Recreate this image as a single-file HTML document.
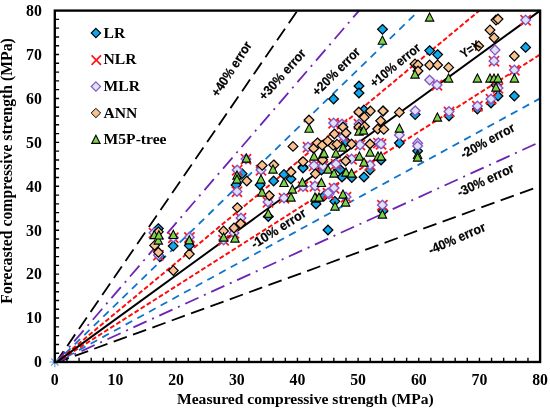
<!DOCTYPE html><html><head><meta charset="utf-8"><title>chart</title><style>html,body{margin:0;padding:0;background:#fff}svg{display:block}text{font-family:"Liberation Serif",serif;font-weight:bold;font-size:15.6px;fill:#000}.lab{font-family:"Liberation Sans",sans-serif;font-weight:bold;font-size:13.2px;stroke:#000;stroke-width:0.2px}</style></head><body>
<svg width="550" height="410" viewBox="0 0 550 410">
<rect width="550" height="410" fill="#fff"/>
<g>
<line x1="55.6" y1="362.9" x2="297.4" y2="10.6" stroke="#000" stroke-width="1.8" stroke-dasharray="14 6.6"/>
<line x1="55.6" y1="362.9" x2="540.1" y2="186.0" stroke="#000" stroke-width="1.8" stroke-dasharray="14 6.6"/>
<line x1="55.6" y1="362.9" x2="359.1" y2="10.6" stroke="#6c24b4" stroke-width="1.8" stroke-dasharray="14.5 6 2 6"/>
<line x1="55.6" y1="362.9" x2="540.1" y2="141.9" stroke="#6c24b4" stroke-width="1.8" stroke-dasharray="14.5 6 2 6"/>
<line x1="55.6" y1="362.9" x2="418.8" y2="10.6" stroke="#0d74cc" stroke-width="1.8" stroke-dasharray="7.5 5.8"/>
<line x1="55.6" y1="362.9" x2="540.1" y2="98.4" stroke="#0d74cc" stroke-width="1.8" stroke-dasharray="7.5 5.8"/>
<line x1="55.6" y1="362.9" x2="479.4" y2="10.6" stroke="#ff0a0a" stroke-width="1.95" stroke-dasharray="4.8 2.4"/>
<line x1="55.6" y1="362.9" x2="540.1" y2="54.5" stroke="#ff0a0a" stroke-width="1.95" stroke-dasharray="4.8 2.4"/>
<line x1="55.6" y1="362.9" x2="540.1" y2="10.6" stroke="#000" stroke-width="1.95"/>
</g>
<g>
<path d="M158.3 223.8L163.2 228.6L158.3 233.4L153.5 228.6Z" fill="#10a8ec" stroke="#000" stroke-width="1.2"/>
<path d="M159.8 252.0L164.7 256.8L159.8 261.7L155.0 256.8Z" fill="#10a8ec" stroke="#000" stroke-width="1.2"/>
<path d="M173.2 241.2L178.0 246.1L173.2 250.9L168.3 246.1Z" fill="#10a8ec" stroke="#000" stroke-width="1.2"/>
<path d="M189.3 240.8L194.2 245.6L189.3 250.4L184.5 245.6Z" fill="#10a8ec" stroke="#000" stroke-width="1.2"/>
<path d="M242.2 168.8L247.0 173.7L242.2 178.5L237.3 173.7Z" fill="#10a8ec" stroke="#000" stroke-width="1.2"/>
<path d="M273.6 176.2L278.5 181.0L273.6 185.8L268.8 181.0Z" fill="#10a8ec" stroke="#000" stroke-width="1.2"/>
<path d="M284.0 169.6L288.9 174.4L284.0 179.2L279.1 174.4Z" fill="#10a8ec" stroke="#000" stroke-width="1.2"/>
<path d="M291.0 174.2L295.9 179.0L291.0 183.8L286.1 179.0Z" fill="#10a8ec" stroke="#000" stroke-width="1.2"/>
<path d="M303.0 162.2L307.9 167.0L303.0 171.8L298.1 167.0Z" fill="#10a8ec" stroke="#000" stroke-width="1.2"/>
<path d="M316.0 199.2L320.9 204.0L316.0 208.8L311.1 204.0Z" fill="#10a8ec" stroke="#000" stroke-width="1.2"/>
<path d="M236.0 180.2L240.8 185.0L236.0 189.8L231.2 185.0Z" fill="#10a8ec" stroke="#000" stroke-width="1.2"/>
<path d="M260.0 180.2L264.9 185.0L260.0 189.8L255.2 185.0Z" fill="#10a8ec" stroke="#000" stroke-width="1.2"/>
<path d="M324.0 191.2L328.9 196.0L324.0 200.8L319.1 196.0Z" fill="#10a8ec" stroke="#000" stroke-width="1.2"/>
<path d="M333.6 94.2L338.5 99.0L333.6 103.8L328.8 99.0Z" fill="#10a8ec" stroke="#000" stroke-width="1.2"/>
<path d="M359.0 81.2L363.9 86.0L359.0 90.8L354.1 86.0Z" fill="#10a8ec" stroke="#000" stroke-width="1.2"/>
<path d="M359.0 88.2L363.9 93.0L359.0 97.8L354.1 93.0Z" fill="#10a8ec" stroke="#000" stroke-width="1.2"/>
<path d="M399.4 138.2L404.2 143.0L399.4 147.8L394.5 143.0Z" fill="#10a8ec" stroke="#000" stroke-width="1.2"/>
<path d="M364.0 105.2L368.9 110.0L364.0 114.8L359.1 110.0Z" fill="#10a8ec" stroke="#000" stroke-width="1.2"/>
<path d="M364.0 172.2L368.9 177.0L364.0 181.8L359.1 177.0Z" fill="#10a8ec" stroke="#000" stroke-width="1.2"/>
<path d="M303.0 163.2L307.9 168.0L303.0 172.8L298.1 168.0Z" fill="#10a8ec" stroke="#000" stroke-width="1.2"/>
<path d="M342.0 172.2L346.9 177.0L342.0 181.8L337.1 177.0Z" fill="#10a8ec" stroke="#000" stroke-width="1.2"/>
<path d="M370.0 165.2L374.9 170.0L370.0 174.8L365.1 170.0Z" fill="#10a8ec" stroke="#000" stroke-width="1.2"/>
<path d="M334.8 196.5L339.7 201.3L334.8 206.2L329.9 201.3Z" fill="#10a8ec" stroke="#000" stroke-width="1.2"/>
<path d="M429.6 45.8L434.5 50.6L429.6 55.5L424.8 50.6Z" fill="#10a8ec" stroke="#000" stroke-width="1.2"/>
<path d="M437.6 49.8L442.5 54.6L437.6 59.5L432.8 54.6Z" fill="#10a8ec" stroke="#000" stroke-width="1.2"/>
<path d="M525.6 42.5L530.5 47.4L525.6 52.2L520.8 47.4Z" fill="#10a8ec" stroke="#000" stroke-width="1.2"/>
<path d="M514.4 91.2L519.2 96.0L514.4 100.8L509.5 96.0Z" fill="#10a8ec" stroke="#000" stroke-width="1.2"/>
<path d="M498.0 91.2L502.9 96.0L498.0 100.8L493.1 96.0Z" fill="#10a8ec" stroke="#000" stroke-width="1.2"/>
<path d="M491.0 98.2L495.9 103.0L491.0 107.8L486.1 103.0Z" fill="#10a8ec" stroke="#000" stroke-width="1.2"/>
<path d="M477.4 104.2L482.2 109.0L477.4 113.8L472.5 109.0Z" fill="#10a8ec" stroke="#000" stroke-width="1.2"/>
<path d="M449.0 111.2L453.9 116.0L449.0 120.8L444.1 116.0Z" fill="#10a8ec" stroke="#000" stroke-width="1.2"/>
<path d="M496.0 80.2L500.9 85.0L496.0 89.8L491.1 85.0Z" fill="#10a8ec" stroke="#000" stroke-width="1.2"/>
<path d="M415.2 109.8L420.1 114.6L415.2 119.4L410.3 114.6Z" fill="#10a8ec" stroke="#000" stroke-width="1.2"/>
<path d="M417.6 146.2L422.5 151.0L417.6 155.8L412.8 151.0Z" fill="#10a8ec" stroke="#000" stroke-width="1.2"/>
<path d="M383.0 206.2L387.9 211.0L383.0 215.8L378.1 211.0Z" fill="#10a8ec" stroke="#000" stroke-width="1.2"/>
<path d="M381.0 155.2L385.9 160.0L381.0 164.8L376.1 160.0Z" fill="#10a8ec" stroke="#000" stroke-width="1.2"/>
<path d="M328.0 225.2L332.9 230.0L328.0 234.8L323.1 230.0Z" fill="#10a8ec" stroke="#000" stroke-width="1.2"/>
<path d="M382.5 24.5L387.4 29.3L382.5 34.1L377.6 29.3Z" fill="#10a8ec" stroke="#000" stroke-width="1.2"/>
<path d="M346.3 137.0L351.2 141.8L346.3 146.7L341.4 141.8Z" fill="#10a8ec" stroke="#000" stroke-width="1.2"/>
<path d="M351.8 172.7L356.7 177.5L351.8 182.3L346.9 177.5Z" fill="#10a8ec" stroke="#000" stroke-width="1.2"/>
<path d="M321.5 165.2L326.4 170.0L321.5 174.8L316.6 170.0Z" fill="#10a8ec" stroke="#000" stroke-width="1.2"/>
<path d="M340.2 164.7L345.1 169.5L340.2 174.3L335.3 169.5Z" fill="#10a8ec" stroke="#000" stroke-width="1.2"/>
<path d="M268.3 211.7L273.2 216.5L268.3 221.3L263.4 216.5Z" fill="#10a8ec" stroke="#000" stroke-width="1.2"/>
<path d="M153.3 250.2L163.5 260.4M153.3 260.4L163.5 250.2" stroke="#ff1515" stroke-width="1.7" fill="none"/>
<path d="M235.9 213.2L246.1 223.4M235.9 223.4L246.1 213.2" stroke="#ff1515" stroke-width="1.7" fill="none"/>
<path d="M232.1 165.2L242.3 175.4M232.1 175.4L242.3 165.2" stroke="#ff1515" stroke-width="1.7" fill="none"/>
<path d="M231.9 186.7L242.1 196.9M231.9 196.9L242.1 186.7" stroke="#ff1515" stroke-width="1.7" fill="none"/>
<path d="M255.9 165.2L266.1 175.4M255.9 175.4L266.1 165.2" stroke="#ff1515" stroke-width="1.7" fill="none"/>
<path d="M278.9 193.2L289.1 203.4M278.9 203.4L289.1 193.2" stroke="#ff1515" stroke-width="1.7" fill="none"/>
<path d="M302.9 142.2L313.1 152.4M302.9 152.4L313.1 142.2" stroke="#ff1515" stroke-width="1.7" fill="none"/>
<path d="M308.9 160.8L319.1 171.0M308.9 171.0L319.1 160.8" stroke="#ff1515" stroke-width="1.7" fill="none"/>
<path d="M317.9 161.2L328.1 171.4M317.9 171.4L328.1 161.2" stroke="#ff1515" stroke-width="1.7" fill="none"/>
<path d="M309.9 181.2L320.1 191.4M309.9 191.4L320.1 181.2" stroke="#ff1515" stroke-width="1.7" fill="none"/>
<path d="M323.9 189.2L334.1 199.4M323.9 199.4L334.1 189.2" stroke="#ff1515" stroke-width="1.7" fill="none"/>
<path d="M328.5 118.2L338.7 128.4M328.5 128.4L338.7 118.2" stroke="#ff1515" stroke-width="1.7" fill="none"/>
<path d="M353.9 119.2L364.1 129.4M353.9 129.4L364.1 119.2" stroke="#ff1515" stroke-width="1.7" fill="none"/>
<path d="M354.9 140.0L365.1 150.2M354.9 150.2L365.1 140.0" stroke="#ff1515" stroke-width="1.7" fill="none"/>
<path d="M373.3 138.0L383.5 148.2M373.3 148.2L383.5 138.0" stroke="#ff1515" stroke-width="1.7" fill="none"/>
<path d="M338.4 131.7L348.6 141.9M338.4 141.9L348.6 131.7" stroke="#ff1515" stroke-width="1.7" fill="none"/>
<path d="M297.9 181.7L308.1 191.9M297.9 191.9L308.1 181.7" stroke="#ff1515" stroke-width="1.7" fill="none"/>
<path d="M336.9 119.2L347.1 129.4M336.9 129.4L347.1 119.2" stroke="#ff1515" stroke-width="1.7" fill="none"/>
<path d="M330.9 159.2L341.1 169.4M330.9 169.4L341.1 159.2" stroke="#ff1515" stroke-width="1.7" fill="none"/>
<path d="M364.9 160.2L375.1 170.4M364.9 170.4L375.1 160.2" stroke="#ff1515" stroke-width="1.7" fill="none"/>
<path d="M328.9 183.2L339.1 193.4M328.9 193.4L339.1 183.2" stroke="#ff1515" stroke-width="1.7" fill="none"/>
<path d="M322.9 188.2L333.1 198.4M322.9 198.4L333.1 188.2" stroke="#ff1515" stroke-width="1.7" fill="none"/>
<path d="M377.3 200.2L387.5 210.4M377.3 210.4L387.5 200.2" stroke="#ff1515" stroke-width="1.7" fill="none"/>
<path d="M346.5 154.2L356.7 164.4M346.5 164.4L356.7 154.2" stroke="#ff1515" stroke-width="1.7" fill="none"/>
<path d="M340.9 192.2L351.1 202.4M340.9 202.4L351.1 192.2" stroke="#ff1515" stroke-width="1.7" fill="none"/>
<path d="M431.9 80.2L442.1 90.4M431.9 90.4L442.1 80.2" stroke="#ff1515" stroke-width="1.7" fill="none"/>
<path d="M488.9 56.2L499.1 66.4M488.9 66.4L499.1 56.2" stroke="#ff1515" stroke-width="1.7" fill="none"/>
<path d="M520.5 15.2L530.7 25.4M520.5 25.4L530.7 15.2" stroke="#ff1515" stroke-width="1.7" fill="none"/>
<path d="M509.3 65.2L519.5 75.4M509.3 75.4L519.5 65.2" stroke="#ff1515" stroke-width="1.7" fill="none"/>
<path d="M443.9 106.8L454.1 117.0M443.9 117.0L454.1 106.8" stroke="#ff1515" stroke-width="1.7" fill="none"/>
<path d="M472.3 101.2L482.5 111.4M472.3 111.4L482.5 101.2" stroke="#ff1515" stroke-width="1.7" fill="none"/>
<path d="M485.9 94.2L496.1 104.4M485.9 104.4L496.1 94.2" stroke="#ff1515" stroke-width="1.7" fill="none"/>
<path d="M492.9 83.2L503.1 93.4M492.9 93.4L503.1 83.2" stroke="#ff1515" stroke-width="1.7" fill="none"/>
<path d="M375.9 139.2L386.1 149.4M375.9 149.4L386.1 139.2" stroke="#ff1515" stroke-width="1.7" fill="none"/>
<path d="M262.9 197.2L273.1 207.4M262.9 207.4L273.1 197.2" stroke="#ff1515" stroke-width="1.7" fill="none"/>
<path d="M228.9 228.2L239.1 238.4M228.9 238.4L239.1 228.2" stroke="#ff1515" stroke-width="1.7" fill="none"/>
<path d="M148.9 228.0L159.1 238.2M148.9 238.2L159.1 228.0" stroke="#ff1515" stroke-width="1.7" fill="none"/>
<path d="M168.2 232.6L178.4 242.8M168.2 242.8L178.4 232.6" stroke="#ff1515" stroke-width="1.7" fill="none"/>
<path d="M184.3 232.4L194.5 242.6M184.3 242.6L194.5 232.4" stroke="#ff1515" stroke-width="1.7" fill="none"/>
<path d="M218.5 235.2L228.7 245.4M218.5 245.4L228.7 235.2" stroke="#ff1515" stroke-width="1.7" fill="none"/>
<path d="M240.9 154.2L251.1 164.4M240.9 164.4L251.1 154.2" stroke="#ff1515" stroke-width="1.7" fill="none"/>
<path d="M158.4 250.2L163.2 255.0L158.4 259.9L153.6 255.0Z" fill="#dde5f4" stroke="#8a55c8" stroke-width="1.35"/>
<path d="M241.0 213.2L245.8 218.0L241.0 222.8L236.2 218.0Z" fill="#dde5f4" stroke="#8a55c8" stroke-width="1.35"/>
<path d="M237.2 165.2L242.0 170.0L237.2 174.8L232.3 170.0Z" fill="#dde5f4" stroke="#8a55c8" stroke-width="1.35"/>
<path d="M237.0 186.7L241.8 191.5L237.0 196.3L232.2 191.5Z" fill="#dde5f4" stroke="#8a55c8" stroke-width="1.35"/>
<path d="M261.0 165.2L265.9 170.0L261.0 174.8L256.1 170.0Z" fill="#dde5f4" stroke="#8a55c8" stroke-width="1.35"/>
<path d="M284.0 193.2L288.9 198.0L284.0 202.8L279.1 198.0Z" fill="#dde5f4" stroke="#8a55c8" stroke-width="1.35"/>
<path d="M308.0 142.2L312.9 147.0L308.0 151.8L303.1 147.0Z" fill="#dde5f4" stroke="#8a55c8" stroke-width="1.35"/>
<path d="M314.0 160.8L318.9 165.6L314.0 170.4L309.1 165.6Z" fill="#dde5f4" stroke="#8a55c8" stroke-width="1.35"/>
<path d="M323.0 161.2L327.9 166.0L323.0 170.8L318.1 166.0Z" fill="#dde5f4" stroke="#8a55c8" stroke-width="1.35"/>
<path d="M315.0 181.2L319.9 186.0L315.0 190.8L310.1 186.0Z" fill="#dde5f4" stroke="#8a55c8" stroke-width="1.35"/>
<path d="M329.0 189.2L333.9 194.0L329.0 198.8L324.1 194.0Z" fill="#dde5f4" stroke="#8a55c8" stroke-width="1.35"/>
<path d="M333.6 118.2L338.5 123.0L333.6 127.8L328.8 123.0Z" fill="#dde5f4" stroke="#8a55c8" stroke-width="1.35"/>
<path d="M359.0 119.2L363.9 124.0L359.0 128.8L354.1 124.0Z" fill="#dde5f4" stroke="#8a55c8" stroke-width="1.35"/>
<path d="M360.0 140.0L364.9 144.8L360.0 149.7L355.1 144.8Z" fill="#dde5f4" stroke="#8a55c8" stroke-width="1.35"/>
<path d="M378.4 138.0L383.2 142.8L378.4 147.7L373.5 142.8Z" fill="#dde5f4" stroke="#8a55c8" stroke-width="1.35"/>
<path d="M343.5 131.7L348.4 136.5L343.5 141.3L338.6 136.5Z" fill="#dde5f4" stroke="#8a55c8" stroke-width="1.35"/>
<path d="M303.0 181.7L307.9 186.5L303.0 191.3L298.1 186.5Z" fill="#dde5f4" stroke="#8a55c8" stroke-width="1.35"/>
<path d="M399.4 130.2L404.2 135.0L399.4 139.8L394.5 135.0Z" fill="#dde5f4" stroke="#8a55c8" stroke-width="1.35"/>
<path d="M342.0 119.2L346.9 124.0L342.0 128.8L337.1 124.0Z" fill="#dde5f4" stroke="#8a55c8" stroke-width="1.35"/>
<path d="M336.0 159.2L340.9 164.0L336.0 168.8L331.1 164.0Z" fill="#dde5f4" stroke="#8a55c8" stroke-width="1.35"/>
<path d="M370.0 160.2L374.9 165.0L370.0 169.8L365.1 165.0Z" fill="#dde5f4" stroke="#8a55c8" stroke-width="1.35"/>
<path d="M334.0 183.2L338.9 188.0L334.0 192.8L329.1 188.0Z" fill="#dde5f4" stroke="#8a55c8" stroke-width="1.35"/>
<path d="M328.0 188.2L332.9 193.0L328.0 197.8L323.1 193.0Z" fill="#dde5f4" stroke="#8a55c8" stroke-width="1.35"/>
<path d="M382.4 200.2L387.2 205.0L382.4 209.8L377.5 205.0Z" fill="#dde5f4" stroke="#8a55c8" stroke-width="1.35"/>
<path d="M351.6 154.2L356.5 159.0L351.6 163.8L346.8 159.0Z" fill="#dde5f4" stroke="#8a55c8" stroke-width="1.35"/>
<path d="M346.0 192.2L350.9 197.0L346.0 201.8L341.1 197.0Z" fill="#dde5f4" stroke="#8a55c8" stroke-width="1.35"/>
<path d="M429.6 75.2L434.5 80.0L429.6 84.8L424.8 80.0Z" fill="#dde5f4" stroke="#8a55c8" stroke-width="1.35"/>
<path d="M437.0 80.2L441.9 85.0L437.0 89.8L432.1 85.0Z" fill="#dde5f4" stroke="#8a55c8" stroke-width="1.35"/>
<path d="M495.0 45.1L499.9 50.0L495.0 54.9L490.1 50.0Z" fill="#dde5f4" stroke="#8a55c8" stroke-width="1.35"/>
<path d="M494.0 56.1L498.9 61.0L494.0 65.8L489.1 61.0Z" fill="#dde5f4" stroke="#8a55c8" stroke-width="1.35"/>
<path d="M525.6 15.2L530.5 20.0L525.6 24.9L520.8 20.0Z" fill="#dde5f4" stroke="#8a55c8" stroke-width="1.35"/>
<path d="M514.4 65.2L519.2 70.0L514.4 74.8L509.5 70.0Z" fill="#dde5f4" stroke="#8a55c8" stroke-width="1.35"/>
<path d="M449.0 106.8L453.9 111.6L449.0 116.4L444.1 111.6Z" fill="#dde5f4" stroke="#8a55c8" stroke-width="1.35"/>
<path d="M477.4 101.2L482.2 106.0L477.4 110.8L472.5 106.0Z" fill="#dde5f4" stroke="#8a55c8" stroke-width="1.35"/>
<path d="M491.0 94.2L495.9 99.0L491.0 103.8L486.1 99.0Z" fill="#dde5f4" stroke="#8a55c8" stroke-width="1.35"/>
<path d="M498.0 83.2L502.9 88.0L498.0 92.8L493.1 88.0Z" fill="#dde5f4" stroke="#8a55c8" stroke-width="1.35"/>
<path d="M415.2 106.0L420.1 110.8L415.2 115.6L410.3 110.8Z" fill="#dde5f4" stroke="#8a55c8" stroke-width="1.35"/>
<path d="M417.6 138.3L422.5 143.2L417.6 148.0L412.8 143.2Z" fill="#dde5f4" stroke="#8a55c8" stroke-width="1.35"/>
<path d="M417.6 141.2L422.5 146.0L417.6 150.8L412.8 146.0Z" fill="#dde5f4" stroke="#8a55c8" stroke-width="1.35"/>
<path d="M381.0 139.2L385.9 144.0L381.0 148.8L376.1 144.0Z" fill="#dde5f4" stroke="#8a55c8" stroke-width="1.35"/>
<path d="M268.0 197.2L272.9 202.0L268.0 206.8L263.1 202.0Z" fill="#dde5f4" stroke="#8a55c8" stroke-width="1.35"/>
<path d="M234.0 228.2L238.8 233.0L234.0 237.8L229.2 233.0Z" fill="#dde5f4" stroke="#8a55c8" stroke-width="1.35"/>
<path d="M154.0 228.0L158.8 232.8L154.0 237.7L149.2 232.8Z" fill="#dde5f4" stroke="#8a55c8" stroke-width="1.35"/>
<path d="M173.3 232.6L178.2 237.4L173.3 242.2L168.5 237.4Z" fill="#dde5f4" stroke="#8a55c8" stroke-width="1.35"/>
<path d="M189.4 232.3L194.2 237.2L189.4 242.0L184.6 237.2Z" fill="#dde5f4" stroke="#8a55c8" stroke-width="1.35"/>
<path d="M223.6 235.2L228.4 240.0L223.6 244.8L218.8 240.0Z" fill="#dde5f4" stroke="#8a55c8" stroke-width="1.35"/>
<path d="M246.0 154.2L250.8 159.0L246.0 163.8L241.2 159.0Z" fill="#dde5f4" stroke="#8a55c8" stroke-width="1.35"/>
<path d="M158.4 227.0L163.2 231.8L158.4 236.7L153.6 231.8Z" fill="#f8c190" stroke="#000" stroke-width="1.2"/>
<path d="M154.6 240.6L159.4 245.4L154.6 250.2L149.8 245.4Z" fill="#f8c190" stroke="#000" stroke-width="1.2"/>
<path d="M158.4 247.5L163.2 252.3L158.4 257.2L153.6 252.3Z" fill="#f8c190" stroke="#000" stroke-width="1.2"/>
<path d="M173.3 265.6L178.2 270.5L173.3 275.4L168.5 270.5Z" fill="#f8c190" stroke="#000" stroke-width="1.2"/>
<path d="M189.3 249.2L194.2 254.0L189.3 258.9L184.5 254.0Z" fill="#f8c190" stroke="#000" stroke-width="1.2"/>
<path d="M223.6 226.2L228.4 231.0L223.6 235.8L218.8 231.0Z" fill="#f8c190" stroke="#000" stroke-width="1.2"/>
<path d="M234.0 223.2L238.8 228.0L234.0 232.8L229.2 228.0Z" fill="#f8c190" stroke="#000" stroke-width="1.2"/>
<path d="M240.6 218.8L245.4 223.6L240.6 228.4L235.8 223.6Z" fill="#f8c190" stroke="#000" stroke-width="1.2"/>
<path d="M237.4 202.8L242.2 207.6L237.4 212.4L232.6 207.6Z" fill="#f8c190" stroke="#000" stroke-width="1.2"/>
<path d="M293.0 141.6L297.9 146.4L293.0 151.2L288.1 146.4Z" fill="#f8c190" stroke="#000" stroke-width="1.2"/>
<path d="M262.2 160.6L267.1 165.4L262.2 170.2L257.3 165.4Z" fill="#f8c190" stroke="#000" stroke-width="1.2"/>
<path d="M273.8 160.0L278.7 164.8L273.8 169.7L268.9 164.8Z" fill="#f8c190" stroke="#000" stroke-width="1.2"/>
<path d="M246.8 176.2L251.7 181.0L246.8 185.8L242.0 181.0Z" fill="#f8c190" stroke="#000" stroke-width="1.2"/>
<path d="M269.3 190.7L274.2 195.5L269.3 200.3L264.4 195.5Z" fill="#f8c190" stroke="#000" stroke-width="1.2"/>
<path d="M291.0 167.2L295.9 172.0L291.0 176.8L286.1 172.0Z" fill="#f8c190" stroke="#000" stroke-width="1.2"/>
<path d="M303.0 156.8L307.9 161.6L303.0 166.4L298.1 161.6Z" fill="#f8c190" stroke="#000" stroke-width="1.2"/>
<path d="M313.7 143.6L318.6 148.4L313.7 153.2L308.8 148.4Z" fill="#f8c190" stroke="#000" stroke-width="1.2"/>
<path d="M317.5 138.0L322.4 142.8L317.5 147.7L312.6 142.8Z" fill="#f8c190" stroke="#000" stroke-width="1.2"/>
<path d="M322.2 140.6L327.1 145.4L322.2 150.2L317.3 145.4Z" fill="#f8c190" stroke="#000" stroke-width="1.2"/>
<path d="M315.4 169.0L320.2 173.8L315.4 178.7L310.5 173.8Z" fill="#f8c190" stroke="#000" stroke-width="1.2"/>
<path d="M322.5 155.0L327.4 159.8L322.5 164.7L317.6 159.8Z" fill="#f8c190" stroke="#000" stroke-width="1.2"/>
<path d="M309.0 115.2L313.9 120.0L309.0 124.8L304.1 120.0Z" fill="#f8c190" stroke="#000" stroke-width="1.2"/>
<path d="M358.8 107.2L363.7 112.0L358.8 116.8L353.9 112.0Z" fill="#f8c190" stroke="#000" stroke-width="1.2"/>
<path d="M370.4 106.2L375.2 111.0L370.4 115.8L365.5 111.0Z" fill="#f8c190" stroke="#000" stroke-width="1.2"/>
<path d="M364.3 112.4L369.2 117.2L364.3 122.0L359.4 117.2Z" fill="#f8c190" stroke="#000" stroke-width="1.2"/>
<path d="M383.2 106.2L388.1 111.0L383.2 115.8L378.3 111.0Z" fill="#f8c190" stroke="#000" stroke-width="1.2"/>
<path d="M399.4 107.6L404.2 112.4L399.4 117.2L394.5 112.4Z" fill="#f8c190" stroke="#000" stroke-width="1.2"/>
<path d="M380.7 116.0L385.6 120.8L380.7 125.6L375.8 120.8Z" fill="#f8c190" stroke="#000" stroke-width="1.2"/>
<path d="M377.7 124.2L382.6 129.0L377.7 133.8L372.8 129.0Z" fill="#f8c190" stroke="#000" stroke-width="1.2"/>
<path d="M383.8 124.6L388.7 129.4L383.8 134.2L378.9 129.4Z" fill="#f8c190" stroke="#000" stroke-width="1.2"/>
<path d="M358.8 122.2L363.7 127.0L358.8 131.8L353.9 127.0Z" fill="#f8c190" stroke="#000" stroke-width="1.2"/>
<path d="M364.6 121.7L369.5 126.5L364.6 131.3L359.8 126.5Z" fill="#f8c190" stroke="#000" stroke-width="1.2"/>
<path d="M343.0 122.2L347.9 127.0L343.0 131.8L338.1 127.0Z" fill="#f8c190" stroke="#000" stroke-width="1.2"/>
<path d="M346.0 128.2L350.9 133.0L346.0 137.8L341.1 133.0Z" fill="#f8c190" stroke="#000" stroke-width="1.2"/>
<path d="M334.4 129.2L339.2 134.0L334.4 138.8L329.5 134.0Z" fill="#f8c190" stroke="#000" stroke-width="1.2"/>
<path d="M327.8 136.3L332.7 141.2L327.8 146.0L322.9 141.2Z" fill="#f8c190" stroke="#000" stroke-width="1.2"/>
<path d="M333.2 140.6L338.1 145.4L333.2 150.2L328.3 145.4Z" fill="#f8c190" stroke="#000" stroke-width="1.2"/>
<path d="M337.0 139.3L341.9 144.2L337.0 149.0L332.1 144.2Z" fill="#f8c190" stroke="#000" stroke-width="1.2"/>
<path d="M351.6 139.2L356.5 144.0L351.6 148.8L346.8 144.0Z" fill="#f8c190" stroke="#000" stroke-width="1.2"/>
<path d="M370.0 139.2L374.9 144.0L370.0 148.8L365.1 144.0Z" fill="#f8c190" stroke="#000" stroke-width="1.2"/>
<path d="M345.7 156.2L350.6 161.0L345.7 165.8L340.8 161.0Z" fill="#f8c190" stroke="#000" stroke-width="1.2"/>
<path d="M415.0 59.1L419.9 64.0L415.0 68.8L410.1 64.0Z" fill="#f8c190" stroke="#000" stroke-width="1.2"/>
<path d="M418.0 60.1L422.9 65.0L418.0 69.8L413.1 65.0Z" fill="#f8c190" stroke="#000" stroke-width="1.2"/>
<path d="M418.0 66.2L422.9 71.0L418.0 75.8L413.1 71.0Z" fill="#f8c190" stroke="#000" stroke-width="1.2"/>
<path d="M429.6 60.1L434.5 65.0L429.6 69.8L424.8 65.0Z" fill="#f8c190" stroke="#000" stroke-width="1.2"/>
<path d="M437.6 60.1L442.5 65.0L437.6 69.8L432.8 65.0Z" fill="#f8c190" stroke="#000" stroke-width="1.2"/>
<path d="M448.6 62.6L453.5 67.4L448.6 72.2L443.8 67.4Z" fill="#f8c190" stroke="#000" stroke-width="1.2"/>
<path d="M496.0 15.2L500.9 20.0L496.0 24.9L491.1 20.0Z" fill="#f8c190" stroke="#000" stroke-width="1.2"/>
<path d="M498.0 14.2L502.9 19.0L498.0 23.9L493.1 19.0Z" fill="#f8c190" stroke="#000" stroke-width="1.2"/>
<path d="M490.0 25.1L494.9 30.0L490.0 34.9L485.1 30.0Z" fill="#f8c190" stroke="#000" stroke-width="1.2"/>
<path d="M494.1 32.9L499.0 37.8L494.1 42.6L489.2 37.8Z" fill="#f8c190" stroke="#000" stroke-width="1.2"/>
<path d="M478.7 41.1L483.6 46.0L478.7 50.9L473.8 46.0Z" fill="#f8c190" stroke="#000" stroke-width="1.2"/>
<path d="M514.4 51.1L519.2 56.0L514.4 60.9L509.5 56.0Z" fill="#f8c190" stroke="#000" stroke-width="1.2"/>
<path d="M383.0 106.2L387.9 111.0L383.0 115.8L378.1 111.0Z" fill="#f8c190" stroke="#000" stroke-width="1.2"/>
<path d="M154.3 230.4L158.5 238.6L150.1 238.6Z" fill="#7ed348" stroke="#000" stroke-width="1.1" stroke-linejoin="miter"/>
<path d="M158.3 235.9L162.5 244.1L154.1 244.1Z" fill="#7ed348" stroke="#000" stroke-width="1.1" stroke-linejoin="miter"/>
<path d="M158.9 230.8L163.1 239.0L154.7 239.0Z" fill="#7ed348" stroke="#000" stroke-width="1.1" stroke-linejoin="miter"/>
<path d="M173.3 230.3L177.5 238.5L169.1 238.5Z" fill="#7ed348" stroke="#000" stroke-width="1.1" stroke-linejoin="miter"/>
<path d="M189.3 235.7L193.5 243.9L185.1 243.9Z" fill="#7ed348" stroke="#000" stroke-width="1.1" stroke-linejoin="miter"/>
<path d="M223.6 232.9L227.8 241.1L219.4 241.1Z" fill="#7ed348" stroke="#000" stroke-width="1.1" stroke-linejoin="miter"/>
<path d="M235.0 233.9L239.2 242.1L230.8 242.1Z" fill="#7ed348" stroke="#000" stroke-width="1.1" stroke-linejoin="miter"/>
<path d="M246.4 153.9L250.6 162.1L242.2 162.1Z" fill="#7ed348" stroke="#000" stroke-width="1.1" stroke-linejoin="miter"/>
<path d="M237.0 170.9L241.2 179.1L232.8 179.1Z" fill="#7ed348" stroke="#000" stroke-width="1.1" stroke-linejoin="miter"/>
<path d="M237.0 174.9L241.2 183.1L232.8 183.1Z" fill="#7ed348" stroke="#000" stroke-width="1.1" stroke-linejoin="miter"/>
<path d="M261.0 174.9L265.2 183.1L256.8 183.1Z" fill="#7ed348" stroke="#000" stroke-width="1.1" stroke-linejoin="miter"/>
<path d="M262.0 187.9L266.2 196.1L257.8 196.1Z" fill="#7ed348" stroke="#000" stroke-width="1.1" stroke-linejoin="miter"/>
<path d="M273.0 164.9L277.2 173.1L268.8 173.1Z" fill="#7ed348" stroke="#000" stroke-width="1.1" stroke-linejoin="miter"/>
<path d="M284.0 178.3L288.2 186.5L279.8 186.5Z" fill="#7ed348" stroke="#000" stroke-width="1.1" stroke-linejoin="miter"/>
<path d="M292.4 184.9L296.6 193.1L288.2 193.1Z" fill="#7ed348" stroke="#000" stroke-width="1.1" stroke-linejoin="miter"/>
<path d="M291.0 192.9L295.2 201.1L286.8 201.1Z" fill="#7ed348" stroke="#000" stroke-width="1.1" stroke-linejoin="miter"/>
<path d="M302.4 177.9L306.6 186.1L298.2 186.1Z" fill="#7ed348" stroke="#000" stroke-width="1.1" stroke-linejoin="miter"/>
<path d="M314.0 151.9L318.2 160.1L309.8 160.1Z" fill="#7ed348" stroke="#000" stroke-width="1.1" stroke-linejoin="miter"/>
<path d="M323.0 149.5L327.2 157.7L318.8 157.7Z" fill="#7ed348" stroke="#000" stroke-width="1.1" stroke-linejoin="miter"/>
<path d="M321.4 178.3L325.6 186.5L317.2 186.5Z" fill="#7ed348" stroke="#000" stroke-width="1.1" stroke-linejoin="miter"/>
<path d="M316.0 193.9L320.2 202.1L311.8 202.1Z" fill="#7ed348" stroke="#000" stroke-width="1.1" stroke-linejoin="miter"/>
<path d="M309.1 124.1L313.3 132.3L304.9 132.3Z" fill="#7ed348" stroke="#000" stroke-width="1.1" stroke-linejoin="miter"/>
<path d="M399.4 123.9L403.6 132.1L395.2 132.1Z" fill="#7ed348" stroke="#000" stroke-width="1.1" stroke-linejoin="miter"/>
<path d="M359.0 126.9L363.2 135.1L354.8 135.1Z" fill="#7ed348" stroke="#000" stroke-width="1.1" stroke-linejoin="miter"/>
<path d="M363.6 125.9L367.8 134.1L359.4 134.1Z" fill="#7ed348" stroke="#000" stroke-width="1.1" stroke-linejoin="miter"/>
<path d="M343.0 142.9L347.2 151.1L338.8 151.1Z" fill="#7ed348" stroke="#000" stroke-width="1.1" stroke-linejoin="miter"/>
<path d="M370.0 147.9L374.2 156.1L365.8 156.1Z" fill="#7ed348" stroke="#000" stroke-width="1.1" stroke-linejoin="miter"/>
<path d="M359.4 151.9L363.6 160.1L355.2 160.1Z" fill="#7ed348" stroke="#000" stroke-width="1.1" stroke-linejoin="miter"/>
<path d="M324.0 148.9L328.2 157.1L319.8 157.1Z" fill="#7ed348" stroke="#000" stroke-width="1.1" stroke-linejoin="miter"/>
<path d="M336.0 148.9L340.2 157.1L331.8 157.1Z" fill="#7ed348" stroke="#000" stroke-width="1.1" stroke-linejoin="miter"/>
<path d="M378.0 151.9L382.2 160.1L373.8 160.1Z" fill="#7ed348" stroke="#000" stroke-width="1.1" stroke-linejoin="miter"/>
<path d="M381.0 151.9L385.2 160.1L376.8 160.1Z" fill="#7ed348" stroke="#000" stroke-width="1.1" stroke-linejoin="miter"/>
<path d="M364.0 157.9L368.2 166.1L359.8 166.1Z" fill="#7ed348" stroke="#000" stroke-width="1.1" stroke-linejoin="miter"/>
<path d="M328.0 164.9L332.2 173.1L323.8 173.1Z" fill="#7ed348" stroke="#000" stroke-width="1.1" stroke-linejoin="miter"/>
<path d="M334.0 168.9L338.2 177.1L329.8 177.1Z" fill="#7ed348" stroke="#000" stroke-width="1.1" stroke-linejoin="miter"/>
<path d="M346.0 167.9L350.2 176.1L341.8 176.1Z" fill="#7ed348" stroke="#000" stroke-width="1.1" stroke-linejoin="miter"/>
<path d="M351.6 168.9L355.8 177.1L347.4 177.1Z" fill="#7ed348" stroke="#000" stroke-width="1.1" stroke-linejoin="miter"/>
<path d="M315.0 192.9L319.2 201.1L310.8 201.1Z" fill="#7ed348" stroke="#000" stroke-width="1.1" stroke-linejoin="miter"/>
<path d="M319.0 192.9L323.2 201.1L314.8 201.1Z" fill="#7ed348" stroke="#000" stroke-width="1.1" stroke-linejoin="miter"/>
<path d="M343.0 189.9L347.2 198.1L338.8 198.1Z" fill="#7ed348" stroke="#000" stroke-width="1.1" stroke-linejoin="miter"/>
<path d="M345.6 197.9L349.8 206.1L341.4 206.1Z" fill="#7ed348" stroke="#000" stroke-width="1.1" stroke-linejoin="miter"/>
<path d="M335.0 201.9L339.2 210.1L330.8 210.1Z" fill="#7ed348" stroke="#000" stroke-width="1.1" stroke-linejoin="miter"/>
<path d="M382.4 209.9L386.6 218.1L378.2 218.1Z" fill="#7ed348" stroke="#000" stroke-width="1.1" stroke-linejoin="miter"/>
<path d="M429.6 12.9L433.8 21.1L425.4 21.1Z" fill="#7ed348" stroke="#000" stroke-width="1.1" stroke-linejoin="miter"/>
<path d="M415.0 69.9L419.2 78.1L410.8 78.1Z" fill="#7ed348" stroke="#000" stroke-width="1.1" stroke-linejoin="miter"/>
<path d="M448.6 73.9L452.8 82.1L444.4 82.1Z" fill="#7ed348" stroke="#000" stroke-width="1.1" stroke-linejoin="miter"/>
<path d="M477.4 73.9L481.6 82.1L473.2 82.1Z" fill="#7ed348" stroke="#000" stroke-width="1.1" stroke-linejoin="miter"/>
<path d="M490.0 73.9L494.2 82.1L485.8 82.1Z" fill="#7ed348" stroke="#000" stroke-width="1.1" stroke-linejoin="miter"/>
<path d="M494.0 73.9L498.2 82.1L489.8 82.1Z" fill="#7ed348" stroke="#000" stroke-width="1.1" stroke-linejoin="miter"/>
<path d="M498.0 73.9L502.2 82.1L493.8 82.1Z" fill="#7ed348" stroke="#000" stroke-width="1.1" stroke-linejoin="miter"/>
<path d="M514.4 73.9L518.6 82.1L510.2 82.1Z" fill="#7ed348" stroke="#000" stroke-width="1.1" stroke-linejoin="miter"/>
<path d="M496.0 82.9L500.2 91.1L491.8 91.1Z" fill="#7ed348" stroke="#000" stroke-width="1.1" stroke-linejoin="miter"/>
<path d="M437.4 112.9L441.6 121.1L433.2 121.1Z" fill="#7ed348" stroke="#000" stroke-width="1.1" stroke-linejoin="miter"/>
<path d="M417.6 150.3L421.8 158.5L413.4 158.5Z" fill="#7ed348" stroke="#000" stroke-width="1.1" stroke-linejoin="miter"/>
<path d="M417.6 152.9L421.8 161.1L413.4 161.1Z" fill="#7ed348" stroke="#000" stroke-width="1.1" stroke-linejoin="miter"/>
<path d="M268.3 209.2L272.5 217.4L264.1 217.4Z" fill="#7ed348" stroke="#000" stroke-width="1.1" stroke-linejoin="miter"/>
<path d="M382.4 36.1L386.6 44.3L378.2 44.3Z" fill="#7ed348" stroke="#000" stroke-width="1.1" stroke-linejoin="miter"/>
</g>
<text class="lab" text-anchor="middle" textLength="63" lengthAdjust="spacingAndGlyphs" transform="translate(231.6,69) rotate(-57)" x="0" y="4.3">+40% error</text>
<text class="lab" text-anchor="middle" textLength="63" lengthAdjust="spacingAndGlyphs" transform="translate(282.4,74.6) rotate(-48.2)" x="0" y="4.3">+30% error</text>
<text class="lab" text-anchor="middle" textLength="62" lengthAdjust="spacingAndGlyphs" transform="translate(336.2,71.6) rotate(-45.2)" x="0" y="4.3">+20% error</text>
<text class="lab" text-anchor="middle" textLength="61" lengthAdjust="spacingAndGlyphs" transform="translate(395.2,65.3) rotate(-39.5)" x="0" y="4.3">+10% error</text>
<text class="lab" style="font-size:12.4px" text-anchor="middle" textLength="21" lengthAdjust="spacingAndGlyphs" transform="translate(470.2,49.2) rotate(-33)" x="0" y="4.3">Y=X</text>
<text class="lab" text-anchor="middle" textLength="62.5" lengthAdjust="spacingAndGlyphs" transform="translate(278.6,228.6) rotate(-32.5)" x="0" y="4.3">-10% error</text>
<text class="lab" text-anchor="middle" textLength="59.5" lengthAdjust="spacingAndGlyphs" transform="translate(487.6,141.0) rotate(-28.5)" x="0" y="4.3">-20% error</text>
<text class="lab" text-anchor="middle" textLength="61" lengthAdjust="spacingAndGlyphs" transform="translate(485.6,180.2) rotate(-25)" x="0" y="4.3">-30% error</text>
<text class="lab" text-anchor="middle" textLength="61" lengthAdjust="spacingAndGlyphs" transform="translate(456.9,238.5) rotate(-23.6)" x="0" y="4.3">-40% error</text>
<path d="M54.8 356.8L54.8 367.2M51.1 358.3L58.5 365.7M49.6 362.0L60.0 362.0M51.1 365.7L58.5 358.3" stroke="#6f9fd8" stroke-width="1.2" fill="none"/>
<rect x="54.8" y="10.6" width="485.3" height="351.4" fill="none" stroke="#000" stroke-width="2.35"/>
<path d="M66.93 362.0v-4.3M54.8 353.21h4.3M79.06 362.0v-4.3M54.8 344.43h4.3M91.20 362.0v-4.3M54.8 335.64h4.3M103.33 362.0v-4.3M54.8 326.86h4.3M115.46 362.0v-4.3M54.8 318.07h4.3M127.59 362.0v-4.3M54.8 309.29h4.3M139.73 362.0v-4.3M54.8 300.50h4.3M151.86 362.0v-4.3M54.8 291.72h4.3M163.99 362.0v-4.3M54.8 282.94h4.3M176.12 362.0v-4.3M54.8 274.15h4.3M188.26 362.0v-4.3M54.8 265.37h4.3M200.39 362.0v-4.3M54.8 256.58h4.3M212.52 362.0v-4.3M54.8 247.80h4.3M224.66 362.0v-4.3M54.8 239.01h4.3M236.79 362.0v-4.3M54.8 230.22h4.3M248.92 362.0v-4.3M54.8 221.44h4.3M261.05 362.0v-4.3M54.8 212.66h4.3M273.19 362.0v-4.3M54.8 203.87h4.3M285.32 362.0v-4.3M54.8 195.09h4.3M297.45 362.0v-4.3M54.8 186.30h4.3M309.58 362.0v-4.3M54.8 177.51h4.3M321.72 362.0v-4.3M54.8 168.73h4.3M333.85 362.0v-4.3M54.8 159.94h4.3M345.98 362.0v-4.3M54.8 151.16h4.3M358.11 362.0v-4.3M54.8 142.38h4.3M370.25 362.0v-4.3M54.8 133.59h4.3M382.38 362.0v-4.3M54.8 124.81h4.3M394.51 362.0v-4.3M54.8 116.02h4.3M406.64 362.0v-4.3M54.8 107.23h4.3M418.78 362.0v-4.3M54.8 98.45h4.3M430.91 362.0v-4.3M54.8 89.67h4.3M443.04 362.0v-4.3M54.8 80.88h4.3M455.17 362.0v-4.3M54.8 72.09h4.3M467.31 362.0v-4.3M54.8 63.31h4.3M479.44 362.0v-4.3M54.8 54.52h4.3M491.57 362.0v-4.3M54.8 45.74h4.3M503.70 362.0v-4.3M54.8 36.95h4.3M515.84 362.0v-4.3M54.8 28.17h4.3M527.97 362.0v-4.3M54.8 19.38h4.3" stroke="#000" stroke-width="1.4" fill="none"/>
<text x="54.8" y="385.3" text-anchor="middle" style="font-size:15.8px">0</text>
<text x="41.8" y="367.3" text-anchor="end" style="font-size:15.8px">0</text>
<text x="115.5" y="385.3" text-anchor="middle" style="font-size:15.8px">10</text>
<text x="41.8" y="323.4" text-anchor="end" style="font-size:15.8px">10</text>
<text x="176.1" y="385.3" text-anchor="middle" style="font-size:15.8px">20</text>
<text x="41.8" y="279.4" text-anchor="end" style="font-size:15.8px">20</text>
<text x="236.8" y="385.3" text-anchor="middle" style="font-size:15.8px">30</text>
<text x="41.8" y="235.5" text-anchor="end" style="font-size:15.8px">30</text>
<text x="297.4" y="385.3" text-anchor="middle" style="font-size:15.8px">40</text>
<text x="41.8" y="191.6" text-anchor="end" style="font-size:15.8px">40</text>
<text x="358.1" y="385.3" text-anchor="middle" style="font-size:15.8px">50</text>
<text x="41.8" y="147.7" text-anchor="end" style="font-size:15.8px">50</text>
<text x="418.8" y="385.3" text-anchor="middle" style="font-size:15.8px">60</text>
<text x="41.8" y="103.7" text-anchor="end" style="font-size:15.8px">60</text>
<text x="479.4" y="385.3" text-anchor="middle" style="font-size:15.8px">70</text>
<text x="41.8" y="59.8" text-anchor="end" style="font-size:15.8px">70</text>
<text x="540.1" y="385.3" text-anchor="middle" style="font-size:15.8px">80</text>
<text x="41.8" y="15.9" text-anchor="end" style="font-size:15.8px">80</text>
<text x="305.4" y="404.2" text-anchor="middle">Measured compressive strength (MPa)</text>
<text transform="translate(11.5,170.9) rotate(-90)" text-anchor="middle" style="font-size:15.75px">Forecasted compressive strength (MPa)</text>
<path d="M95.9 28.3L100.6 33.0L95.9 37.7L91.2 33.0Z" fill="#10a8ec" stroke="#000" stroke-width="1.1"/>
<path d="M91.6 55.4L101.0 64.8M91.6 64.8L101.0 55.4" stroke="#ff1515" stroke-width="1.7" fill="none"/>
<path d="M95.9 81.8L100.6 86.5L95.9 91.2L91.2 86.5Z" fill="#dde5f4" stroke="#8a55c8" stroke-width="1.2"/>
<path d="M95.9 108.3L100.6 113.0L95.9 117.7L91.2 113.0Z" fill="#f8c190" stroke="#000" stroke-width="1.0"/>
<path d="M95.9 135.2L100.1 143.4L91.7 143.4Z" fill="#7ed348" stroke="#000" stroke-width="1.1" stroke-linejoin="miter"/>
<text x="103.6" y="37.5">LR</text>
<text x="103.6" y="64.4">NLR</text>
<text x="103.6" y="91.0">MLR</text>
<text x="103.6" y="117.5">ANN</text>
<text x="103.6" y="143.8">M5P-tree</text>
</svg></body></html>
